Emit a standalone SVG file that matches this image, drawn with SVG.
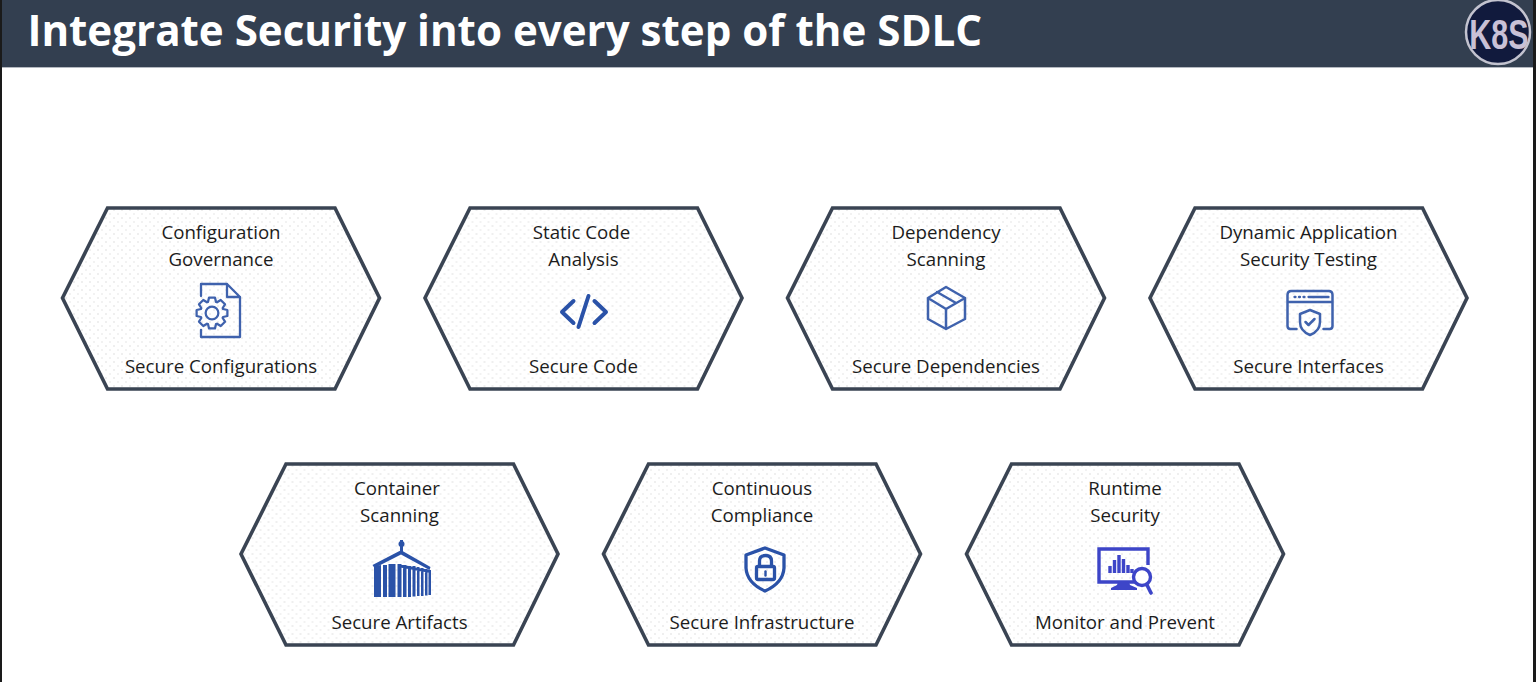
<svg xmlns="http://www.w3.org/2000/svg" width="1536" height="682" viewBox="0 0 1536 682">
<style>
text{font-family:"Open Sans","Noto Sans","Liberation Sans",sans-serif;}
.l{font-size:18.7px;fill:#1c1c1c;text-anchor:middle;}
.hex{fill:url(#dots);stroke:#3a4453;stroke-width:3.6;stroke-linejoin:miter;}
.i{fill:none;stroke:#3f62ad;stroke-width:2.3;stroke-linejoin:round;stroke-linecap:round;}
.b{fill:none;stroke:#2a52a8;stroke-width:3.3;stroke-linejoin:round;stroke-linecap:round;}
.r{fill:none;stroke:#3d45c8;stroke-width:3.4;}
</style>
<defs>
<pattern id="dots" width="8" height="8" patternUnits="userSpaceOnUse">
<rect width="8" height="8" fill="#ffffff"/>
<circle cx="2" cy="2" r="0.8" fill="#dcdcdc"/>
<circle cx="6" cy="6" r="0.8" fill="#e2e2e2"/>
</pattern>
<polygon id="hexa" class="hex" points="107.500,208 335,208 379.500,298 335,389 107.500,389 62.500,298"/>
</defs>
<rect width="1536" height="682" fill="#ffffff"/>
<rect x="0" y="0" width="2" height="682" fill="#1a1a1a"/>
<rect x="1533" y="0" width="3" height="682" fill="#1a1a1a"/>
<g id="header">
<rect x="2" y="0" width="1531" height="67" fill="#333f50"/>
<rect x="2" y="67" width="1531" height="1" fill="#b4b8c0"/>
<text x="27.500" y="46" font-size="42.100" font-weight="700" fill="#ffffff">Integrate Security into every step of the SDLC</text>
</g>
<g id="logo">
<circle cx="1498" cy="32" r="32" fill="#111a3d" stroke="#c3c3cf" stroke-width="2.500"/>
<text transform="translate(1499,49) scale(1,1.370)" font-size="30.500" font-weight="700" fill="#c9c1d6" text-anchor="middle" style="font-family:'Liberation Sans',sans-serif">K8S</text>
</g>
<g id="connectors"/>

<g id="node-config">
<use href="#hexa"/>
<text class="l" x="221" y="238.500">Configuration</text>
<text class="l" x="221" y="265.500">Governance</text>
<path class="i" d="M201,296V284H227L240,297V337H201V330M227,284V297H240"/>
<g transform="translate(212,313) scale(0.98)">
<circle class="i" r="6.500"/>
<path class="i" d="M11.300,-4.100L15.700,-3.050L15.700,3.050L11.300,4.100L10.900,5.100L13.300,8.900L8.900,13.300L5.100,10.900L4.100,11.300L3.050,15.700L-3.050,15.700L-4.100,11.300L-5.100,10.900L-8.900,13.300L-13.300,8.900L-10.900,5.100L-11.300,4.100L-15.700,3.050L-15.700,-3.050L-11.300,-4.100L-10.900,-5.100L-13.300,-8.900L-8.900,-13.300L-5.100,-10.900L-4.100,-11.300L-3.050,-15.700L3.050,-15.700L4.100,-11.300L5.100,-10.900L8.900,-13.300L13.300,-8.900L10.900,-5.100Z"/>
</g>
<text class="l" x="221" y="372.500">Secure Configurations</text>
</g>

<g id="node-static" transform="translate(362.500,0)">
<use href="#hexa"/>
<text class="l" x="219" y="238.500">Static Code</text>
<text class="l" x="221" y="265.500">Analysis</text>
<path class="b" style="stroke-width:4" d="M211,301L199.500,312L211,323M232,301L243.500,312L232,323M226,296L216,327"/>
<text class="l" x="221" y="372.500">Secure Code</text>
</g>

<g id="node-dependency" transform="translate(725,0)">
<use href="#hexa"/>
<text class="l" x="221" y="238.500">Dependency</text>
<text class="l" x="221" y="265.500">Scanning</text>
<path class="i" style="stroke-width:2.500" d="M221,287L240,298V319L221,329L203,319V298ZM203,298L221,309L240,298M221,309V329M212,292L231,303"/>
<text class="l" x="221" y="372.500">Secure Dependencies</text>
</g>

<g id="node-dast" transform="translate(1087.500,0)">
<use href="#hexa"/>
<text class="l" x="221" y="238.500">Dynamic Application</text>
<text class="l" x="221" y="265.500">Security Testing</text>
<path class="i" style="stroke-width:2.500" d="M209,329H203Q200,329 200,326V295Q200,291 204,291H241Q245,291 245,295V326Q245,329 242,329H236M200,302H245"/>
<path class="i" d="M207,297H208M211.500,297H212.500M216,297H217M221,297H241"/>
<path class="i" style="stroke-width:2.500" d="M222.500,310L232.500,314V322Q232.500,331 222.500,335Q212.500,331 212.500,322V314Z"/>
<path class="i" style="stroke-width:2.500" d="M218,322L221,325L227,319"/>
<text class="l" x="221" y="372.500">Secure Interfaces</text>
</g>

<g id="node-container" transform="translate(178.500,256)">
<use href="#hexa"/>
<text class="l" x="218.500" y="238.500">Container</text>
<text class="l" x="221" y="265.500">Scanning</text>
<g fill="#2a52a8">
<path d="M194,309L221,295H224L252,311L251,314L222.500,298.500L196,312Z"/>
<circle cx="223" cy="288" r="3"/>
<rect x="221.500" y="284" width="3" height="12"/>
<path d="M195.500,310L202.500,309V341H195.500ZM204.500,309H208.500V341H204.500ZM210,308H217V341H210Z"/>
<path d="M219,308L252,314V317L219,311ZM219,308H223V341H219ZM224.500,309H228V341H224.500ZM229.500,310H232.500V341H229.500ZM234,310H237V340.500H234ZM238.500,311H241V340H238.500ZM242.500,312H245V340H242.500ZM246.500,313H249V339.500H246.500ZM250,314H252.500V339H250Z"/>
</g>
<text class="l" x="221" y="372.500">Secure Artifacts</text>
</g>

<g id="node-compliance" transform="translate(541,256)">
<use href="#hexa"/>
<text class="l" x="221" y="238.500">Continuous</text>
<text class="l" x="221" y="265.500">Compliance</text>
<path class="b" d="M224,292L243,299V312Q242,327 224,335Q206,327 205,312V299Z"/>
<rect class="b" x="215.500" y="310.500" width="18" height="13" rx="1.500"/>
<path class="b" d="M218.500,310V305Q218.500,299.500 224.500,299.500Q230.500,299.500 230.500,305V310"/>
<path class="b" style="stroke-width:2.400" d="M224.500,315.500V319.500"/>
<text class="l" x="221" y="372.500">Secure Infrastructure</text>
</g>

<g id="node-runtime" transform="translate(904,256)">
<use href="#hexa"/>
<text class="l" x="221" y="238.500">Runtime</text>
<text class="l" x="221" y="265.500">Security</text>
<path class="r" d="M232,326H195V293H244V309"/>
<path fill="#3d45c8" d="M214,326H225L226,329L233,332V334H207V332L213,329Z"/>
<path class="r" d="M206,317V310M210.500,317V304M215,317V299M219.500,317V303M224,317V309M228,317V313"/>
<circle cx="238" cy="321" r="8.500" fill="#ffffff" stroke="#3d45c8" stroke-width="3.400"/>
<path fill="none" stroke="#3d45c8" stroke-width="3.600" stroke-linecap="round" d="M243,329L247,337"/>
<text class="l" x="221" y="372.500">Monitor and Prevent</text>
</g>
</svg>
